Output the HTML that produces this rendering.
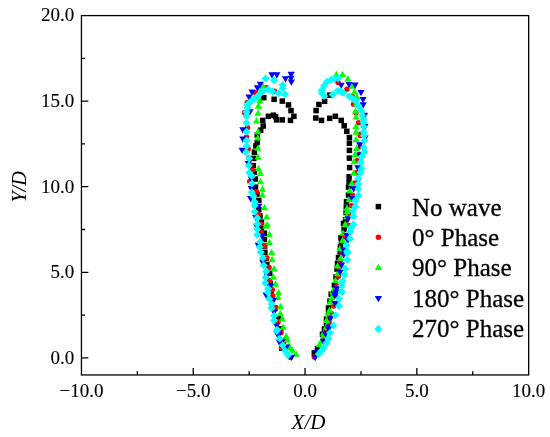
<!DOCTYPE html>
<html><head><meta charset="utf-8"><style>
html,body{margin:0;padding:0;background:#fff;width:550px;height:437px;overflow:hidden}
svg{display:block}
</style></head><body>
<svg width="550" height="437" viewBox="0 0 550 437">
<rect width="550" height="437" fill="#fff"/>
<g fill="#000"><rect x="261.05" y="94.95" width="5.5" height="5.5"/><rect x="271.35" y="96.55" width="5.5" height="5.5"/><rect x="279.55" y="98.35" width="5.5" height="5.5"/><rect x="285.75" y="102.15" width="5.5" height="5.5"/><rect x="288.25" y="107.85" width="5.5" height="5.5"/><rect x="291.15" y="113.55" width="5.5" height="5.5"/><rect x="287.75" y="117.65" width="5.5" height="5.5"/><rect x="279.55" y="117.15" width="5.5" height="5.5"/><rect x="273.85" y="117.15" width="5.5" height="5.5"/><rect x="272.85" y="114.05" width="5.5" height="5.5"/><rect x="270.75" y="112.45" width="5.5" height="5.5"/><rect x="265.65" y="113.55" width="5.5" height="5.5"/><rect x="259.95" y="117.65" width="5.5" height="5.5"/><rect x="260.45" y="123.25" width="5.5" height="5.5"/><rect x="257.95" y="127.45" width="5.5" height="5.5"/><rect x="254.55" y="132.25" width="5.5" height="5.5"/><rect x="254.55" y="139.35" width="5.5" height="5.5"/><rect x="253.15" y="143.25" width="5.5" height="5.5"/><rect x="251.65" y="149.45" width="5.5" height="5.5"/><rect x="251.05" y="155.65" width="5.5" height="5.5"/><rect x="250.55" y="162.85" width="5.5" height="5.5"/><rect x="251.65" y="169.25" width="5.5" height="5.5"/><rect x="252.65" y="176.25" width="5.5" height="5.5"/><rect x="252.75" y="184.35" width="5.5" height="5.5"/><rect x="254.25" y="191.25" width="5.5" height="5.5"/><rect x="256.05" y="197.65" width="5.5" height="5.5"/><rect x="256.05" y="206.95" width="5.5" height="5.5"/><rect x="257.25" y="213.25" width="5.5" height="5.5"/><rect x="258.65" y="219.35" width="5.5" height="5.5"/><rect x="258.65" y="225.55" width="5.5" height="5.5"/><rect x="261.65" y="230.45" width="5.5" height="5.5"/><rect x="261.65" y="236.65" width="5.5" height="5.5"/><rect x="261.85" y="243.25" width="5.5" height="5.5"/><rect x="262.15" y="249.55" width="5.5" height="5.5"/><rect x="263.25" y="255.75" width="5.5" height="5.5"/><rect x="264.15" y="261.85" width="5.5" height="5.5"/><rect x="266.95" y="270.45" width="5.5" height="5.5"/><rect x="267.45" y="280.75" width="5.5" height="5.5"/><rect x="268.25" y="288.25" width="5.5" height="5.5"/><rect x="269.05" y="296.25" width="5.5" height="5.5"/><rect x="272.25" y="305.25" width="5.5" height="5.5"/><rect x="275.95" y="315.15" width="5.5" height="5.5"/><rect x="277.95" y="325.95" width="5.5" height="5.5"/><rect x="280.55" y="338.25" width="5.5" height="5.5"/><rect x="279.05" y="345.45" width="5.5" height="5.5"/><rect x="326.95" y="92.35" width="5.5" height="5.5"/><rect x="321.85" y="98.55" width="5.5" height="5.5"/><rect x="316.15" y="101.75" width="5.5" height="5.5"/><rect x="313.35" y="107.85" width="5.5" height="5.5"/><rect x="313.05" y="115.25" width="5.5" height="5.5"/><rect x="318.75" y="117.65" width="5.5" height="5.5"/><rect x="326.95" y="115.55" width="5.5" height="5.5"/><rect x="332.65" y="113.55" width="5.5" height="5.5"/><rect x="338.45" y="117.65" width="5.5" height="5.5"/><rect x="341.45" y="123.05" width="5.5" height="5.5"/><rect x="344.05" y="128.55" width="5.5" height="5.5"/><rect x="346.65" y="134.75" width="5.5" height="5.5"/><rect x="346.65" y="140.45" width="5.5" height="5.5"/><rect x="346.65" y="147.65" width="5.5" height="5.5"/><rect x="346.65" y="155.35" width="5.5" height="5.5"/><rect x="346.85" y="164.85" width="5.5" height="5.5"/><rect x="346.35" y="174.05" width="5.5" height="5.5"/><rect x="346.35" y="179.25" width="5.5" height="5.5"/><rect x="345.75" y="184.35" width="5.5" height="5.5"/><rect x="345.75" y="192.15" width="5.5" height="5.5"/><rect x="343.75" y="198.85" width="5.5" height="5.5"/><rect x="343.55" y="204.25" width="5.5" height="5.5"/><rect x="343.35" y="209.85" width="5.5" height="5.5"/><rect x="342.85" y="217.05" width="5.5" height="5.5"/><rect x="340.75" y="220.65" width="5.5" height="5.5"/><rect x="341.35" y="226.35" width="5.5" height="5.5"/><rect x="338.25" y="235.05" width="5.5" height="5.5"/><rect x="338.75" y="238.65" width="5.5" height="5.5"/><rect x="337.65" y="244.25" width="5.5" height="5.5"/><rect x="337.45" y="249.05" width="5.5" height="5.5"/><rect x="335.75" y="254.75" width="5.5" height="5.5"/><rect x="334.75" y="260.65" width="5.5" height="5.5"/><rect x="334.25" y="266.35" width="5.5" height="5.5"/><rect x="333.25" y="274.25" width="5.5" height="5.5"/><rect x="331.65" y="282.25" width="5.5" height="5.5"/><rect x="328.45" y="291.45" width="5.5" height="5.5"/><rect x="327.25" y="298.25" width="5.5" height="5.5"/><rect x="325.75" y="305.25" width="5.5" height="5.5"/><rect x="325.75" y="310.95" width="5.5" height="5.5"/><rect x="323.75" y="316.25" width="5.5" height="5.5"/><rect x="323.75" y="321.25" width="5.5" height="5.5"/><rect x="321.75" y="326.25" width="5.5" height="5.5"/><rect x="319.75" y="331.45" width="5.5" height="5.5"/><rect x="314.75" y="345.75" width="5.5" height="5.5"/><rect x="311.55" y="350.15" width="5.5" height="5.5"/></g><g fill="#f00"><circle cx="266.60" cy="87.80" r="2.75"/><circle cx="274.60" cy="91.30" r="2.75"/><circle cx="255.40" cy="92.80" r="2.75"/><circle cx="247.30" cy="102.60" r="2.75"/><circle cx="244.50" cy="112.60" r="2.75"/><circle cx="247.50" cy="127.70" r="2.75"/><circle cx="246.50" cy="136.90" r="2.75"/><circle cx="248.20" cy="149.10" r="2.75"/><circle cx="249.00" cy="158.00" r="2.75"/><circle cx="250.00" cy="165.00" r="2.75"/><circle cx="252.30" cy="170.20" r="2.75"/><circle cx="249.70" cy="181.60" r="2.75"/><circle cx="256.30" cy="191.70" r="2.75"/><circle cx="258.30" cy="214.40" r="2.75"/><circle cx="260.90" cy="224.10" r="2.75"/><circle cx="261.30" cy="232.20" r="2.75"/><circle cx="264.90" cy="245.60" r="2.75"/><circle cx="266.90" cy="258.00" r="2.75"/><circle cx="269.10" cy="267.40" r="2.75"/><circle cx="269.70" cy="280.40" r="2.75"/><circle cx="272.30" cy="289.70" r="2.75"/><circle cx="272.80" cy="295.90" r="2.75"/><circle cx="275.80" cy="307.90" r="2.75"/><circle cx="278.20" cy="321.50" r="2.75"/><circle cx="280.20" cy="331.80" r="2.75"/><circle cx="281.00" cy="332.70" r="2.75"/><circle cx="283.30" cy="340.50" r="2.75"/><circle cx="284.40" cy="347.20" r="2.75"/><circle cx="281.50" cy="347.50" r="2.75"/><circle cx="290.50" cy="357.50" r="2.75"/><circle cx="338.10" cy="82.60" r="2.75"/><circle cx="346.90" cy="89.20" r="2.75"/><circle cx="352.20" cy="96.20" r="2.75"/><circle cx="353.50" cy="104.20" r="2.75"/><circle cx="356.00" cy="113.00" r="2.75"/><circle cx="358.60" cy="122.80" r="2.75"/><circle cx="360.40" cy="134.30" r="2.75"/><circle cx="360.20" cy="135.40" r="2.75"/><circle cx="360.20" cy="146.80" r="2.75"/><circle cx="359.70" cy="154.50" r="2.75"/><circle cx="357.10" cy="160.70" r="2.75"/><circle cx="356.30" cy="172.70" r="2.75"/><circle cx="354.70" cy="183.00" r="2.75"/><circle cx="352.70" cy="195.40" r="2.75"/><circle cx="351.60" cy="205.70" r="2.75"/><circle cx="348.70" cy="214.10" r="2.75"/><circle cx="348.70" cy="225.40" r="2.75"/><circle cx="344.60" cy="236.30" r="2.75"/><circle cx="342.10" cy="252.10" r="2.75"/><circle cx="340.10" cy="260.80" r="2.75"/><circle cx="339.00" cy="268.00" r="2.75"/><circle cx="338.50" cy="276.30" r="2.75"/><circle cx="337.00" cy="286.00" r="2.75"/><circle cx="335.00" cy="296.00" r="2.75"/><circle cx="333.70" cy="306.00" r="2.75"/><circle cx="331.60" cy="313.70" r="2.75"/><circle cx="329.10" cy="323.00" r="2.75"/><circle cx="327.30" cy="329.80" r="2.75"/><circle cx="324.00" cy="337.00" r="2.75"/><circle cx="314.30" cy="357.00" r="2.75"/></g><g fill="#0f0"><path d="M263.10 82.65L266.70 88.95H259.50Z"/><path d="M260.40 87.25L264.00 93.55H256.80Z"/><path d="M259.90 96.85L263.50 103.15H256.30Z"/><path d="M258.40 102.35L262.00 108.65H254.80Z"/><path d="M258.00 109.55L261.60 115.85H254.40Z"/><path d="M256.50 117.25L260.10 123.55H252.90Z"/><path d="M258.00 127.85L261.60 134.15H254.40Z"/><path d="M257.80 134.25L261.40 140.55H254.20Z"/><path d="M257.90 144.45L261.50 150.75H254.30Z"/><path d="M258.00 153.15L261.60 159.45H254.40Z"/><path d="M258.50 165.05L262.10 171.35H254.90Z"/><path d="M260.50 169.65L264.10 175.95H256.90Z"/><path d="M260.50 177.85L264.10 184.15H256.90Z"/><path d="M262.50 185.55L266.10 191.85H258.90Z"/><path d="M262.40 191.15L266.00 197.45H258.80Z"/><path d="M264.50 203.95L268.10 210.25H260.90Z"/><path d="M266.60 213.25L270.20 219.55H263.00Z"/><path d="M267.10 220.95L270.70 227.25H263.50Z"/><path d="M265.90 222.35L269.50 228.65H262.30Z"/><path d="M269.50 230.65L273.10 236.95H265.90Z"/><path d="M269.50 238.85L273.10 245.15H265.90Z"/><path d="M271.60 248.65L275.20 254.95H268.00Z"/><path d="M272.10 255.85L275.70 262.15H268.50Z"/><path d="M274.00 264.95L277.60 271.25H270.40Z"/><path d="M273.30 273.15L276.90 279.45H269.70Z"/><path d="M275.40 280.35L279.00 286.65H271.80Z"/><path d="M278.50 288.65L282.10 294.95H274.90Z"/><path d="M278.00 293.75L281.60 300.05H274.40Z"/><path d="M280.60 302.65L284.20 308.95H277.00Z"/><path d="M280.20 310.05L283.80 316.35H276.60Z"/><path d="M282.30 315.25L285.90 321.55H278.70Z"/><path d="M283.30 323.45L286.90 329.75H279.70Z"/><path d="M286.20 332.55L289.80 338.85H282.60Z"/><path d="M287.40 336.15L291.00 342.45H283.80Z"/><path d="M288.80 342.45L292.40 348.75H285.20Z"/><path d="M290.00 344.05L293.60 350.35H286.40Z"/><path d="M292.40 346.55L296.00 352.85H288.80Z"/><path d="M296.20 350.45L299.80 356.75H292.60Z"/><path d="M336.30 70.65L339.90 76.95H332.70Z"/><path d="M342.50 70.65L346.10 76.95H338.90Z"/><path d="M347.90 75.25L351.50 81.55H344.30Z"/><path d="M352.60 82.45L356.20 88.75H349.00Z"/><path d="M354.50 88.15L358.10 94.45H350.90Z"/><path d="M356.80 93.35L360.40 99.65H353.20Z"/><path d="M356.20 100.85L359.80 107.15H352.60Z"/><path d="M355.40 107.45L359.00 113.75H351.80Z"/><path d="M356.00 113.15L359.60 119.45H352.40Z"/><path d="M356.00 122.65L359.60 128.95H352.40Z"/><path d="M356.00 128.55L359.60 134.85H352.40Z"/><path d="M356.10 135.95L359.70 142.25H352.50Z"/><path d="M356.60 144.65L360.20 150.95H353.00Z"/><path d="M355.00 150.85L358.60 157.15H351.40Z"/><path d="M354.10 158.05L357.70 164.35H350.50Z"/><path d="M353.70 169.55L357.30 175.85H350.10Z"/><path d="M351.60 179.85L355.20 186.15H348.00Z"/><path d="M349.60 187.05L353.20 193.35H346.00Z"/><path d="M349.10 195.85L352.70 202.15H345.50Z"/><path d="M347.00 204.55L350.60 210.85H343.40Z"/><path d="M347.10 207.85L350.70 214.15H343.50Z"/><path d="M346.60 213.05L350.20 219.35H343.00Z"/><path d="M345.10 220.75L348.70 227.05H341.50Z"/><path d="M343.00 229.55L346.60 235.85H339.40Z"/><path d="M342.50 236.75L346.10 243.05H338.90Z"/><path d="M339.90 244.95L343.50 251.25H336.30Z"/><path d="M340.60 254.55L344.20 260.85H337.00Z"/><path d="M337.50 262.25L341.10 268.55H333.90Z"/><path d="M337.50 270.05L341.10 276.35H333.90Z"/><path d="M335.40 276.75L339.00 283.05H331.80Z"/><path d="M332.90 287.05L336.50 293.35H329.30Z"/><path d="M333.20 288.35L336.80 294.65H329.60Z"/><path d="M331.60 294.05L335.20 300.35H328.00Z"/><path d="M330.10 298.15L333.70 304.45H326.50Z"/><path d="M329.60 306.45L333.20 312.75H326.00Z"/><path d="M328.00 310.85L331.60 317.15H324.40Z"/><path d="M326.50 316.75L330.10 323.05H322.90Z"/><path d="M326.50 322.85L330.10 329.15H322.90Z"/><path d="M326.70 323.65L330.30 329.95H323.10Z"/><path d="M323.40 329.55L327.00 335.85H319.80Z"/><path d="M323.50 331.95L327.10 338.25H319.90Z"/><path d="M321.60 337.45L325.20 343.75H318.00Z"/><path d="M319.30 340.65L322.90 346.95H315.70Z"/></g><g fill="#00f"><path d="M272.00 78.65L275.60 72.35H268.40Z"/><path d="M276.80 78.65L280.40 72.35H273.20Z"/><path d="M285.50 82.45L289.10 76.15H281.90Z"/><path d="M291.20 78.15L294.80 71.85H287.60Z"/><path d="M291.00 82.05L294.60 75.75H287.40Z"/><path d="M291.40 85.85L295.00 79.55H287.80Z"/><path d="M260.30 87.95L263.90 81.65H256.70Z"/><path d="M257.50 91.65L261.10 85.35H253.90Z"/><path d="M252.00 95.85L255.60 89.55H248.40Z"/><path d="M249.00 100.85L252.60 94.55H245.40Z"/><path d="M250.00 115.55L253.60 109.25H246.40Z"/><path d="M242.90 133.55L246.50 127.25H239.30Z"/><path d="M242.90 142.85L246.50 136.55H239.30Z"/><path d="M242.20 154.05L245.80 147.75H238.60Z"/><path d="M248.20 167.35L251.80 161.05H244.60Z"/><path d="M251.30 182.85L254.90 176.55H247.70Z"/><path d="M251.20 192.35L254.80 186.05H247.60Z"/><path d="M250.60 202.25L254.20 195.95H247.00Z"/><path d="M258.80 209.95L262.40 203.65H255.20Z"/><path d="M255.70 221.25L259.30 214.95H252.10Z"/><path d="M256.70 230.15L260.30 223.85H253.10Z"/><path d="M262.30 240.15L265.90 233.85H258.70Z"/><path d="M258.20 248.95L261.80 242.65H254.60Z"/><path d="M262.80 265.95L266.40 259.65H259.20Z"/><path d="M267.10 279.65L270.70 273.35H263.50Z"/><path d="M270.20 289.95L273.80 283.65H266.60Z"/><path d="M266.10 298.75L269.70 292.45H262.50Z"/><path d="M273.30 304.35L276.90 298.05H269.70Z"/><path d="M274.10 316.05L277.70 309.75H270.50Z"/><path d="M276.60 329.45L280.20 323.15H273.00Z"/><path d="M279.20 337.65L282.80 331.35H275.60Z"/><path d="M277.40 338.05L281.00 331.75H273.80Z"/><path d="M281.80 345.35L285.40 339.05H278.20Z"/><path d="M279.60 346.25L283.20 339.95H276.00Z"/><path d="M286.50 350.85L290.10 344.55H282.90Z"/><path d="M291.50 361.05L295.10 354.75H287.90Z"/><path d="M341.20 88.95L344.80 82.65H337.60Z"/><path d="M349.00 88.35L352.60 82.05H345.40Z"/><path d="M355.10 88.85L358.70 82.55H351.50Z"/><path d="M361.00 96.25L364.60 89.95H357.40Z"/><path d="M363.00 103.25L366.60 96.95H359.40Z"/><path d="M363.20 108.55L366.80 102.25H359.60Z"/><path d="M364.50 119.15L368.10 112.85H360.90Z"/><path d="M365.00 129.95L368.60 123.65H361.40Z"/><path d="M365.00 141.55L368.60 135.25H361.40Z"/><path d="M359.70 148.55L363.30 142.25H356.10Z"/><path d="M359.70 158.85L363.30 152.55H356.10Z"/><path d="M357.80 171.45L361.40 165.15H354.20Z"/><path d="M358.30 184.25L361.90 177.95H354.70Z"/><path d="M353.70 192.55L357.30 186.25H350.10Z"/><path d="M352.10 202.35L355.70 196.05H348.50Z"/><path d="M348.20 222.55L351.80 216.25H344.60Z"/><path d="M346.60 239.05L350.20 232.75H343.00Z"/><path d="M347.70 244.25L351.30 237.95H344.10Z"/><path d="M343.50 253.45L347.10 247.15H339.90Z"/><path d="M343.70 258.45L347.30 252.15H340.10Z"/><path d="M341.60 268.75L345.20 262.45H338.00Z"/><path d="M340.10 275.95L343.70 269.65H336.50Z"/><path d="M336.50 292.45L340.10 286.15H332.90Z"/><path d="M334.40 297.65L338.00 291.35H330.80Z"/><path d="M336.30 295.85L339.90 289.55H332.70Z"/><path d="M335.20 299.45L338.80 293.15H331.60Z"/><path d="M335.20 307.25L338.80 300.95H331.60Z"/><path d="M330.60 322.15L334.20 315.85H327.00Z"/><path d="M328.50 332.45L332.10 326.15H324.90Z"/><path d="M325.40 337.65L329.00 331.35H321.80Z"/><path d="M329.40 330.75L333.00 324.45H325.80Z"/><path d="M323.50 344.95L327.10 338.65H319.90Z"/><path d="M317.00 355.95L320.60 349.65H313.40Z"/><path d="M315.20 361.35L318.80 355.05H311.60Z"/></g><g fill="#0ff"><path d="M265.60 74.60L269.60 78.60L265.60 82.60L261.60 78.60Z"/><path d="M274.10 76.30L278.10 80.30L274.10 84.30L270.10 80.30Z"/><path d="M282.60 80.90L286.60 84.90L282.60 88.90L278.60 84.90Z"/><path d="M282.60 84.40L286.60 88.40L282.60 92.40L278.60 88.40Z"/><path d="M285.20 90.20L289.20 94.20L285.20 98.20L281.20 94.20Z"/><path d="M278.80 89.20L282.80 93.20L278.80 97.20L274.80 93.20Z"/><path d="M272.40 87.60L276.40 91.60L272.40 95.60L268.40 91.60Z"/><path d="M268.00 85.50L272.00 89.50L268.00 93.50L264.00 89.50Z"/><path d="M263.30 86.50L267.30 90.50L263.30 94.50L259.30 90.50Z"/><path d="M260.10 89.70L264.10 93.70L260.10 97.70L256.10 93.70Z"/><path d="M256.90 92.90L260.90 96.90L256.90 100.90L252.90 96.90Z"/><path d="M253.70 95.30L257.70 99.30L253.70 103.30L249.70 99.30Z"/><path d="M250.50 97.70L254.50 101.70L250.50 105.70L246.50 101.70Z"/><path d="M247.30 100.90L251.30 104.90L247.30 108.90L243.30 104.90Z"/><path d="M247.50 104.10L251.50 108.10L247.50 112.10L243.50 108.10Z"/><path d="M246.50 108.00L250.50 112.00L246.50 116.00L242.50 112.00Z"/><path d="M246.50 112.30L250.50 116.30L246.50 120.30L242.50 116.30Z"/><path d="M246.50 119.00L250.50 123.00L246.50 127.00L242.50 123.00Z"/><path d="M246.50 127.80L250.50 131.80L246.50 135.80L242.50 131.80Z"/><path d="M246.50 136.50L250.50 140.50L246.50 144.50L242.50 140.50Z"/><path d="M246.60 142.00L250.60 146.00L246.60 150.00L242.60 146.00Z"/><path d="M246.10 148.20L250.10 152.20L246.10 156.20L242.10 152.20Z"/><path d="M249.20 154.40L253.20 158.40L249.20 162.40L245.20 158.40Z"/><path d="M248.70 161.60L252.70 165.60L248.70 169.60L244.70 165.60Z"/><path d="M249.20 168.80L253.20 172.80L249.20 176.80L245.20 172.80Z"/><path d="M251.80 171.90L255.80 175.90L251.80 179.90L247.80 175.90Z"/><path d="M251.80 179.60L255.80 183.60L251.80 187.60L247.80 183.60Z"/><path d="M251.60 188.20L255.60 192.20L251.60 196.20L247.60 192.20Z"/><path d="M253.20 191.80L257.20 195.80L253.20 199.80L249.20 195.80Z"/><path d="M254.70 198.00L258.70 202.00L254.70 206.00L250.70 202.00Z"/><path d="M254.70 201.60L258.70 205.60L254.70 209.60L250.70 205.60Z"/><path d="M254.70 207.80L258.70 211.80L254.70 215.80L250.70 211.80Z"/><path d="M257.30 214.00L261.30 218.00L257.30 222.00L253.30 218.00Z"/><path d="M257.30 220.10L261.30 224.10L257.30 228.10L253.30 224.10Z"/><path d="M257.20 225.20L261.20 229.20L257.20 233.20L253.20 229.20Z"/><path d="M257.10 230.80L261.10 234.80L257.10 238.80L253.10 234.80Z"/><path d="M260.20 238.00L264.20 242.00L260.20 246.00L256.20 242.00Z"/><path d="M259.70 243.10L263.70 247.10L259.70 251.10L255.70 247.10Z"/><path d="M260.70 248.30L264.70 252.30L260.70 256.30L256.70 252.30Z"/><path d="M262.80 254.00L266.80 258.00L262.80 262.00L258.80 258.00Z"/><path d="M263.70 261.30L267.70 265.30L263.70 269.30L259.70 265.30Z"/><path d="M266.10 267.20L270.10 271.20L266.10 275.20L262.10 271.20Z"/><path d="M265.60 273.40L269.60 277.40L265.60 281.40L261.60 277.40Z"/><path d="M265.10 279.00L269.10 283.00L265.10 287.00L261.10 283.00Z"/><path d="M268.20 284.70L272.20 288.70L268.20 292.70L264.20 288.70Z"/><path d="M267.70 288.30L271.70 292.30L267.70 296.30L263.70 292.30Z"/><path d="M269.20 295.00L273.20 299.00L269.20 303.00L265.20 299.00Z"/><path d="M271.80 300.10L275.80 304.10L271.80 308.10L267.80 304.10Z"/><path d="M271.60 304.00L275.60 308.00L271.60 312.00L267.60 308.00Z"/><path d="M274.10 311.80L278.10 315.80L274.10 319.80L270.10 315.80Z"/><path d="M274.10 316.40L278.10 320.40L274.10 324.40L270.10 320.40Z"/><path d="M277.10 325.70L281.10 329.70L277.10 333.70L273.10 329.70Z"/><path d="M276.90 326.90L280.90 330.90L276.90 334.90L272.90 330.90Z"/><path d="M279.60 334.40L283.60 338.40L279.60 342.40L275.60 338.40Z"/><path d="M282.60 341.20L286.60 345.20L282.60 349.20L278.60 345.20Z"/><path d="M285.10 347.00L289.10 351.00L285.10 355.00L281.10 351.00Z"/><path d="M287.90 351.20L291.90 355.20L287.90 359.20L283.90 355.20Z"/><path d="M321.60 86.20L325.60 90.20L321.60 94.20L317.60 90.20Z"/><path d="M324.00 81.80L328.00 85.80L324.00 89.80L320.00 85.80Z"/><path d="M326.80 77.80L330.80 81.80L326.80 85.80L322.80 81.80Z"/><path d="M331.10 75.80L335.10 79.80L331.10 83.80L327.10 79.80Z"/><path d="M334.70 74.60L338.70 78.60L334.70 82.60L330.70 78.60Z"/><path d="M338.20 74.20L342.20 78.20L338.20 82.20L334.20 78.20Z"/><path d="M321.90 89.20L325.90 93.20L321.90 97.20L317.90 93.20Z"/><path d="M324.20 92.00L328.20 96.00L324.20 100.00L320.20 96.00Z"/><path d="M332.70 90.40L336.70 94.40L332.70 98.40L328.70 94.40Z"/><path d="M337.60 87.00L341.60 91.00L337.60 95.00L333.60 91.00Z"/><path d="M340.70 87.20L344.70 91.20L340.70 95.20L336.70 91.20Z"/><path d="M343.20 88.80L347.20 92.80L343.20 96.80L339.20 92.80Z"/><path d="M349.10 92.30L353.10 96.30L349.10 100.30L345.10 96.30Z"/><path d="M353.10 95.00L357.10 99.00L353.10 103.00L349.10 99.00Z"/><path d="M354.90 96.30L358.90 100.30L354.90 104.30L350.90 100.30Z"/><path d="M355.60 97.00L359.60 101.00L355.60 105.00L351.60 101.00Z"/><path d="M358.10 101.80L362.10 105.80L358.10 109.80L354.10 105.80Z"/><path d="M361.10 106.60L365.10 110.60L361.10 114.60L357.10 110.60Z"/><path d="M362.10 111.20L366.10 115.20L362.10 119.20L358.10 115.20Z"/><path d="M363.70 115.40L367.70 119.40L363.70 123.40L359.70 119.40Z"/><path d="M363.30 118.10L367.30 122.10L363.30 126.10L359.30 122.10Z"/><path d="M363.50 122.50L367.50 126.50L363.50 130.50L359.50 126.50Z"/><path d="M363.70 127.70L367.70 131.70L363.70 135.70L359.70 131.70Z"/><path d="M363.80 131.40L367.80 135.40L363.80 139.40L359.80 135.40Z"/><path d="M364.40 136.60L368.40 140.60L364.40 144.60L360.40 140.60Z"/><path d="M363.80 143.80L367.80 147.80L363.80 151.80L359.80 147.80Z"/><path d="M364.40 147.90L368.40 151.90L364.40 155.90L360.40 151.90Z"/><path d="M361.80 152.60L365.80 156.60L361.80 160.60L357.80 156.60Z"/><path d="M360.70 158.20L364.70 162.20L360.70 166.20L356.70 162.20Z"/><path d="M361.40 165.10L365.40 169.10L361.40 173.10L357.40 169.10Z"/><path d="M360.40 168.70L364.40 172.70L360.40 176.70L356.40 172.70Z"/><path d="M358.30 174.40L362.30 178.40L358.30 182.40L354.30 178.40Z"/><path d="M358.30 180.10L362.30 184.10L358.30 188.10L354.30 184.10Z"/><path d="M358.30 184.70L362.30 188.70L358.30 192.70L354.30 188.70Z"/><path d="M358.30 191.40L362.30 195.40L358.30 199.40L354.30 195.40Z"/><path d="M355.20 196.50L359.20 200.50L355.20 204.50L351.20 200.50Z"/><path d="M355.20 202.70L359.20 206.70L355.20 210.70L351.20 206.70Z"/><path d="M352.80 207.00L356.80 211.00L352.80 215.00L348.80 211.00Z"/><path d="M353.30 212.20L357.30 216.20L353.30 220.20L349.30 216.20Z"/><path d="M353.30 220.40L357.30 224.40L353.30 228.40L349.30 224.40Z"/><path d="M350.70 224.00L354.70 228.00L350.70 232.00L346.70 228.00Z"/><path d="M350.20 227.60L354.20 231.60L350.20 235.60L346.20 231.60Z"/><path d="M350.20 234.80L354.20 238.80L350.20 242.80L346.20 238.80Z"/><path d="M346.60 241.50L350.60 245.50L346.60 249.50L342.60 245.50Z"/><path d="M347.10 247.20L351.10 251.20L347.10 255.20L343.10 251.20Z"/><path d="M347.30 249.10L351.30 253.10L347.30 257.10L343.30 253.10Z"/><path d="M347.30 255.80L351.30 259.80L347.30 263.80L343.30 259.80Z"/><path d="M345.20 264.50L349.20 268.50L345.20 272.50L341.20 268.50Z"/><path d="M344.70 270.70L348.70 274.70L344.70 278.70L340.70 274.70Z"/><path d="M342.70 276.90L346.70 280.90L342.70 284.90L338.70 280.90Z"/><path d="M341.60 281.50L345.60 285.50L341.60 289.50L337.60 285.50Z"/><path d="M341.60 287.70L345.60 291.70L341.60 295.70L337.60 291.70Z"/><path d="M341.90 288.10L345.90 292.10L341.90 296.10L337.90 292.10Z"/><path d="M338.80 294.80L342.80 298.80L338.80 302.80L334.80 298.80Z"/><path d="M339.00 302.00L343.00 306.00L339.00 310.00L335.00 306.00Z"/><path d="M335.40 311.20L339.40 315.20L335.40 319.20L331.40 315.20Z"/><path d="M333.50 321.50L337.50 325.50L333.50 329.50L329.50 325.50Z"/><path d="M330.10 328.70L334.10 332.70L330.10 336.70L326.10 332.70Z"/><path d="M328.30 334.70L332.30 338.70L328.30 342.70L324.30 338.70Z"/><path d="M326.50 339.00L330.50 343.00L326.50 347.00L322.50 343.00Z"/><path d="M323.40 344.00L327.40 348.00L323.40 352.00L319.40 348.00Z"/><path d="M321.30 347.00L325.30 351.00L321.30 355.00L317.30 351.00Z"/><path d="M318.80 350.10L322.80 354.10L318.80 358.10L314.80 354.10Z"/></g>
<rect x="81.45" y="15.6" width="447.20" height="359.35" fill="none" stroke="#000" stroke-width="1.3"/><path d="M81.45 357.84H88.35M81.45 272.28H88.35M81.45 186.72H88.35M81.45 101.16H88.35M81.45 315.06H85.05M81.45 229.50H85.05M81.45 143.94H85.05M81.45 58.38H85.05M193.25 374.95V368.05M305.05 374.95V368.05M416.85 374.95V368.05M137.35 374.95V371.35M249.15 374.95V371.35M360.95 374.95V371.35M472.75 374.95V371.35" stroke="#000" stroke-width="1.3" fill="none"/>
<g font-family="'Liberation Serif', 'Times New Roman', serif" font-size="19" fill="#000">
<text x="74.3" y="20.90" text-anchor="end" stroke="#000" stroke-width="0.12">20.0</text><text x="74.3" y="106.70" text-anchor="end" stroke="#000" stroke-width="0.12">15.0</text><text x="74.3" y="192.50" text-anchor="end" stroke="#000" stroke-width="0.12">10.0</text><text x="74.3" y="278.30" text-anchor="end" stroke="#000" stroke-width="0.12">5.0</text><text x="74.3" y="364.10" text-anchor="end" stroke="#000" stroke-width="0.12">0.0</text><text x="81.45" y="397.3" text-anchor="middle" stroke="#000" stroke-width="0.12">−10.0</text><text x="193.25" y="397.3" text-anchor="middle" stroke="#000" stroke-width="0.12">−5.0</text><text x="305.05" y="397.3" text-anchor="middle" stroke="#000" stroke-width="0.12">0.0</text><text x="416.85" y="397.3" text-anchor="middle" stroke="#000" stroke-width="0.12">5.0</text><text x="528.65" y="397.3" text-anchor="middle" stroke="#000" stroke-width="0.12">10.0</text>
<g fill="#000"><rect x="375.65" y="203.85" width="5.5" height="5.5"/></g><text x="412" y="215.60" font-size="25" stroke="#000" stroke-width="0.3">No wave</text><g fill="#f00"><circle cx="378.40" cy="237.30" r="2.75"/></g><text x="412" y="246.00" font-size="25" stroke="#000" stroke-width="0.3">0° Phase</text><g fill="#0f0"><path d="M378.40 263.65L382.00 269.95H374.80Z"/></g><text x="412" y="276.40" font-size="25" stroke="#000" stroke-width="0.3">90° Phase</text><g fill="#00f"><path d="M378.40 302.25L382.00 295.95H374.80Z"/></g><text x="412" y="306.80" font-size="25" stroke="#000" stroke-width="0.3">180° Phase</text><g fill="#0ff"><path d="M378.40 324.90L382.40 328.90L378.40 332.90L374.40 328.90Z"/></g><text x="412" y="337.20" font-size="25" stroke="#000" stroke-width="0.3">270° Phase</text>
<text x="308.5" y="429.1" text-anchor="middle" font-style="italic" font-size="21">X/D</text>
<text transform="translate(25.7 186.9) rotate(-90)" text-anchor="middle" font-style="italic" font-size="20.2">Y/D</text>
</g>
</svg>
</body></html>
